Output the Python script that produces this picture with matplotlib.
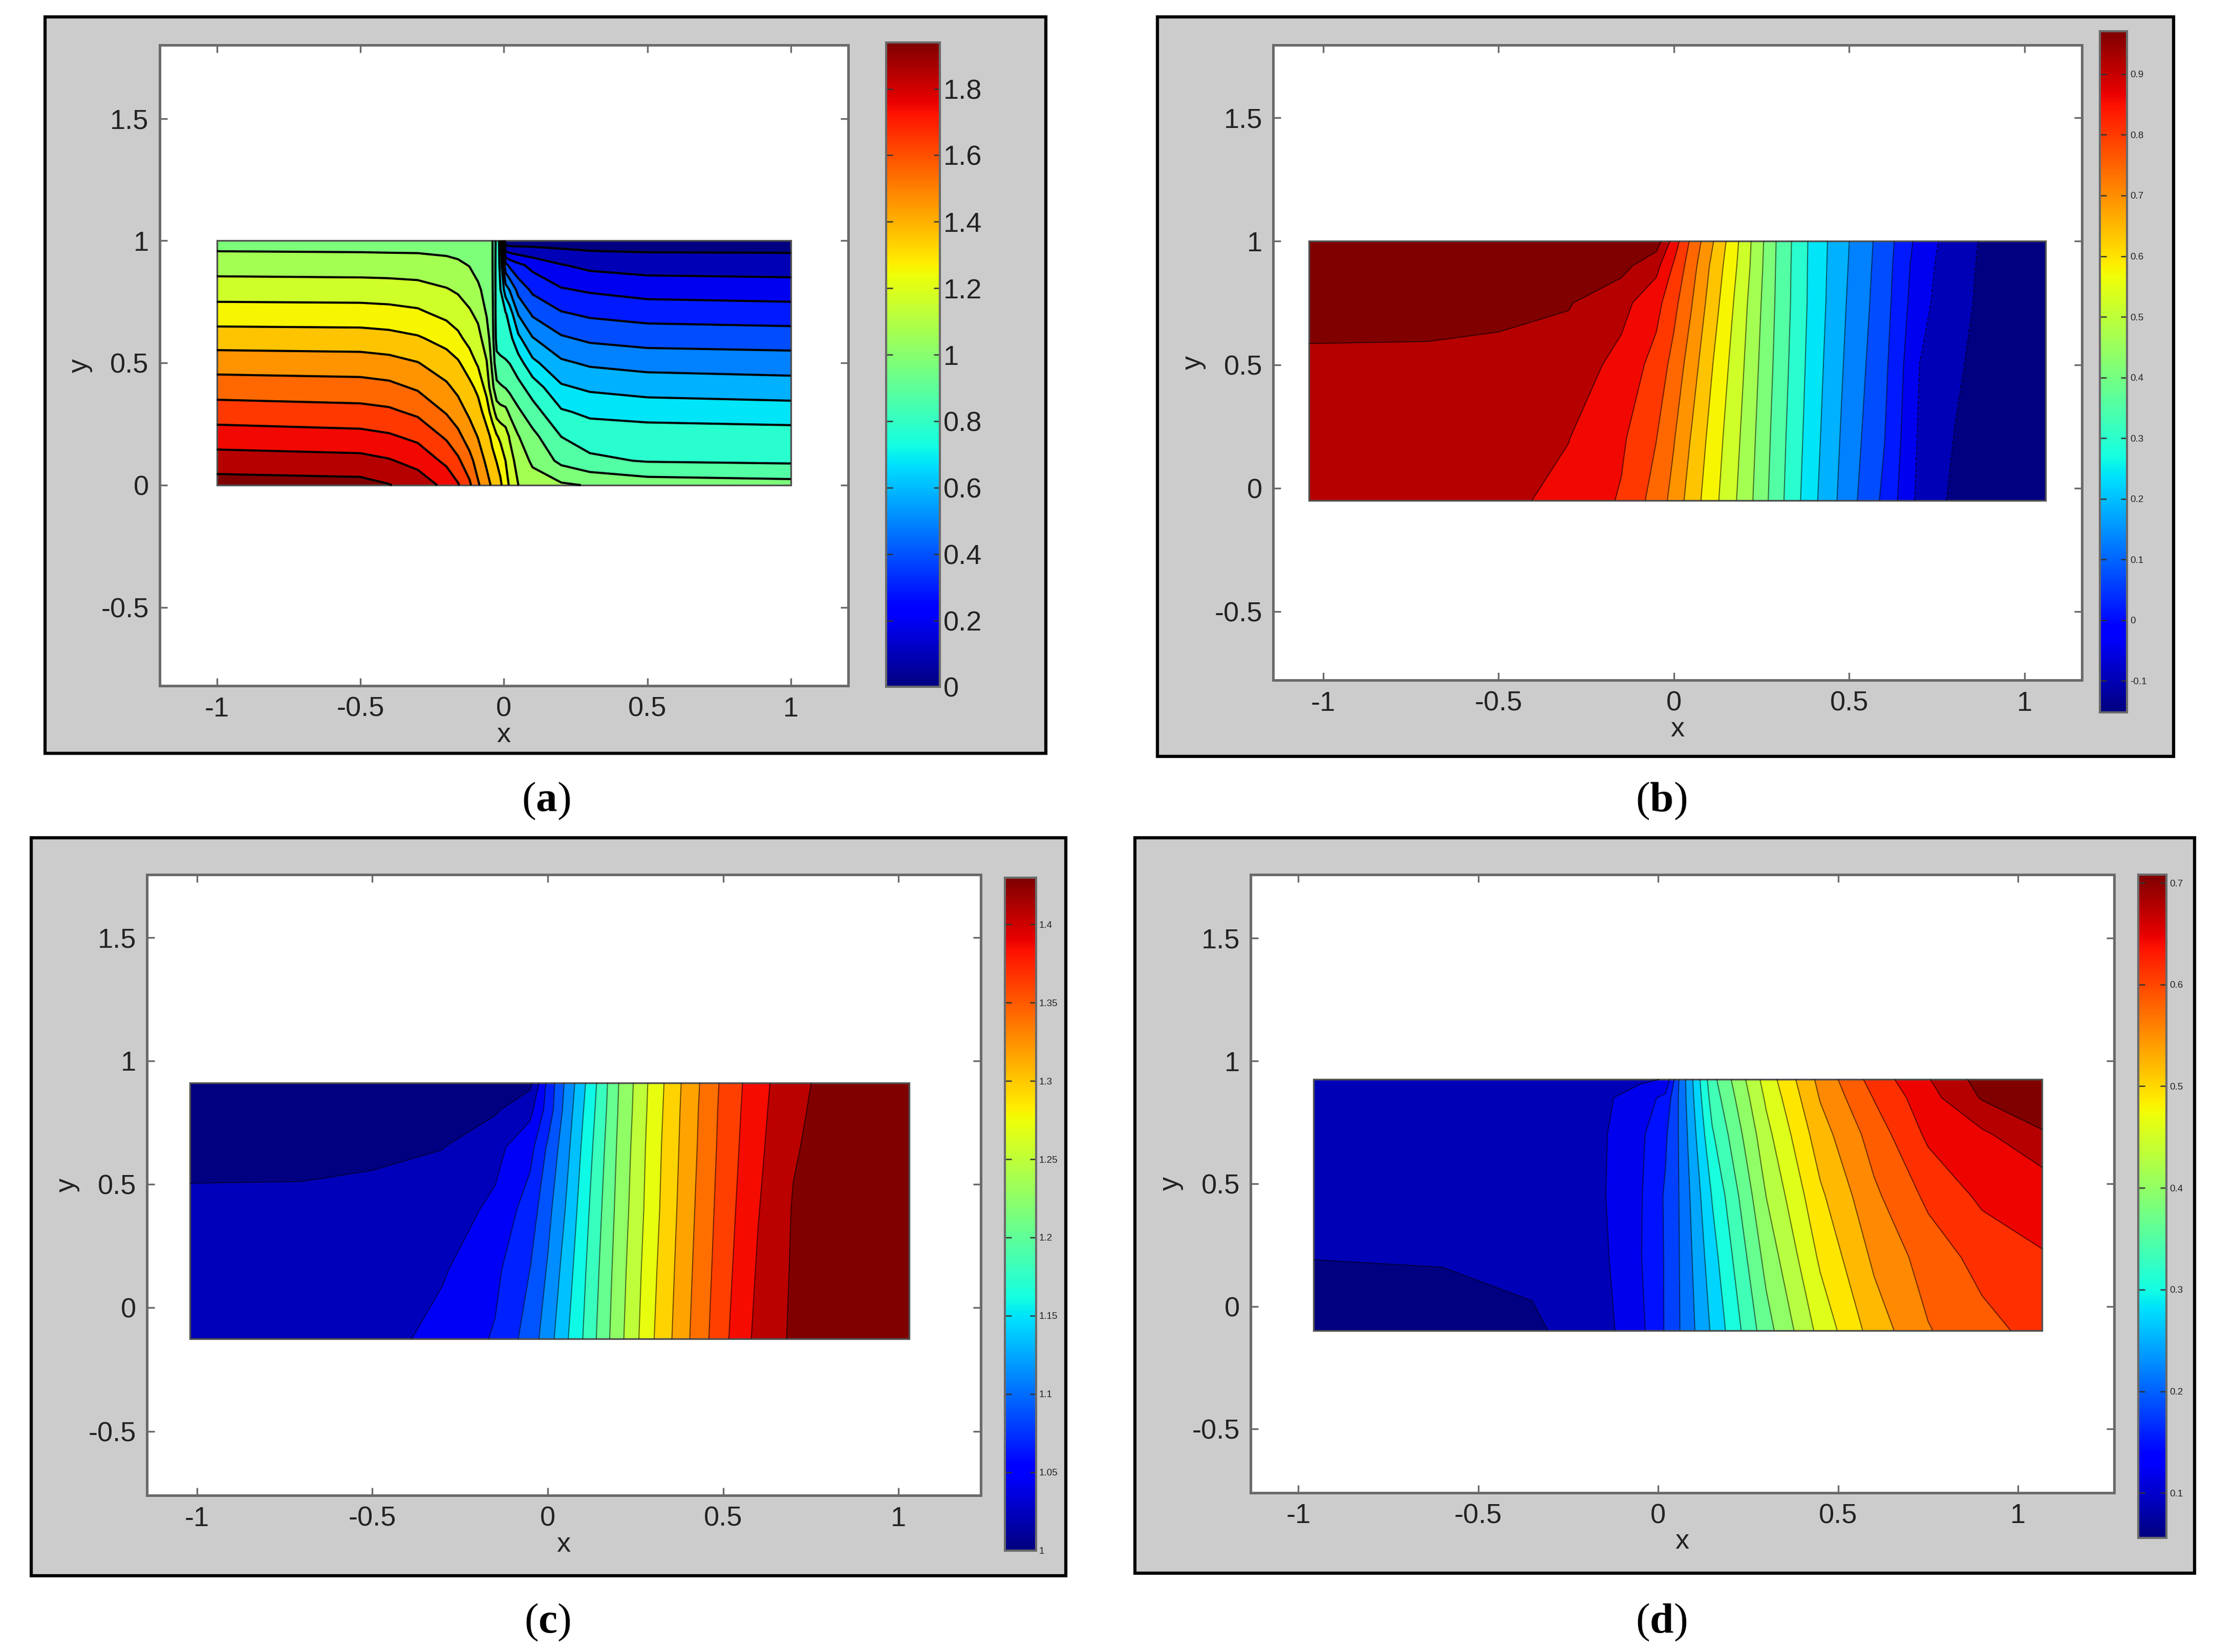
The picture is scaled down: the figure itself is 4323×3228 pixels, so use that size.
import numpy as np
import matplotlib
matplotlib.use("Agg")
import matplotlib.pyplot as plt
from matplotlib.patches import Rectangle
from matplotlib.colors import Normalize
from matplotlib.cm import ScalarMappable

plt.rcParams["font.family"] = ["Liberation Sans Narrow", "Liberation Sans", "DejaVu Sans"]
plt.rcParams["mathtext.fontset"] = "custom"
plt.rcParams["mathtext.bf"] = "Liberation Serif:bold"
plt.rcParams["mathtext.rm"] = "Liberation Serif"

# ticks shared by the four panels
xticks = [-1, -0.5, 0, 0.5, 1]
xtick_labels = ["-1", "-0.5", "0", "0.5", "1"]
yticks = [-0.5, 0, 0.5, 1, 1.5]
ytick_labels = ["-0.5", "0", "0.5", "1", "1.5"]

# ---- panel (a) ----
xa = [-1, -0.5, -0.4, -0.3, -0.2, -0.16, -0.12, -0.09, -0.06, -0.04, -0.025, -0.012,
      0.006, 0.02, 0.05, 0.1, 0.2, 0.3, 0.5, 1.0]
ya = [0, 0.1, 0.2, 0.3, 0.4, 0.5, 0.6, 0.7, 0.8, 0.9, 1.0]
# one column per x value, from y=0 up to y=1
za_cols = [
    [1.89, 1.797, 1.706, 1.615, 1.525, 1.436, 1.34, 1.245, 1.157, 1.068, 0.977],
    [1.88, 1.784, 1.691, 1.60, 1.515, 1.428, 1.335, 1.242, 1.153, 1.064, 0.974],
    [1.852, 1.763, 1.674, 1.587, 1.502, 1.416, 1.325, 1.235, 1.149, 1.062, 0.972],
    [1.808, 1.724, 1.64, 1.552, 1.466, 1.389, 1.304, 1.22, 1.14, 1.059, 0.972],
    [1.73, 1.642, 1.556, 1.47, 1.402, 1.335, 1.261, 1.179, 1.114, 1.044, 0.97],
    [1.672, 1.588, 1.502, 1.427, 1.363, 1.305, 1.222, 1.157, 1.097, 1.032, 0.967],
    [1.59, 1.509, 1.434, 1.368, 1.319, 1.245, 1.172, 1.122, 1.068, 1.013, 0.958],
    [1.49, 1.438, 1.381, 1.331, 1.27, 1.188, 1.139, 1.089, 1.034, 0.979, 0.93],
    [1.42, 1.368, 1.324, 1.252, 1.167, 1.114, 1.062, 1.011, 0.98, 0.95, 0.93],
    [1.37, 1.32, 1.27, 1.15, 1.04, 0.99, 0.96, 0.945, 0.935, 0.93, 0.93],
    [1.34, 1.29, 1.21, 1.07, 0.95, 0.86, 0.80, 0.79, 0.79, 0.79, 0.80],
    [1.31, 1.26, 1.18, 1.05, 0.935, 0.85, 0.79, 0.76, 0.74, 0.72, 0.70],
    [1.24, 1.20, 1.15, 1.04, 0.92, 0.84, 0.785, 0.75, 0.60, 0.40, 0.02],
    [1.19, 1.15, 1.10, 1.00, 0.90, 0.83, 0.77, 0.70, 0.55, 0.35, 0.02],
    [1.11, 1.07, 1.02, 0.94, 0.86, 0.78, 0.67, 0.55, 0.43, 0.30, 0.03],
    [1.06, 1.00, 0.95, 0.87, 0.79, 0.67, 0.56, 0.45, 0.35, 0.25, 0.04],
    [1.03, 0.90, 0.83, 0.75, 0.66, 0.57, 0.475, 0.38, 0.285, 0.19, 0.045],
    [1.01, 0.85, 0.79, 0.72, 0.63, 0.54, 0.445, 0.355, 0.265, 0.16, 0.045],
    [0.975, 0.825, 0.79, 0.70, 0.61, 0.52, 0.425, 0.335, 0.24, 0.145, 0.045],
    [0.96, 0.815, 0.78, 0.69, 0.595, 0.51, 0.415, 0.325, 0.23, 0.14, 0.045],
]
cba_range = (0.0, 1.94)
cba_ticks = [0, 0.2, 0.4, 0.6, 0.8, 1, 1.2, 1.4, 1.6, 1.8]
cba_labels = ["0", "0.2", "0.4", "0.6", "0.8", "1", "1.2", "1.4", "1.6", "1.8"]

# ---- panel (b) ----
xb = [-1.04, -0.7, -0.5, -0.3, -0.15, -0.05, 0, 0.05, 0.1, 0.2, 0.3, 0.4, 0.5, 0.6, 0.7, 0.8, 0.9, 1.06]
yb = [-0.05, 0.2, 0.5, 0.75, 0.9, 1.0]
zb_rows = [
    [0.895, 0.89, 0.875, 0.852, 0.805, 0.735, 0.685, 0.625, 0.573, 0.467, 0.345, 0.232, 0.135, 0.05, -0.06, -0.11, -0.13, -0.145],
    [0.902, 0.899, 0.887, 0.865, 0.8195, 0.758, 0.707, 0.646, 0.587, 0.477, 0.351, 0.2396, 0.143, 0.0635, -0.053, -0.10, -0.125, -0.147],
    [0.910, 0.910, 0.908, 0.893, 0.848, 0.791, 0.739, 0.677, 0.61, 0.49, 0.36, 0.247, 0.153, 0.074, -0.045, -0.09, -0.12, -0.148],
    [0.932, 0.930, 0.926, 0.921, 0.881, 0.828, 0.773, 0.707, 0.636, 0.503, 0.366, 0.253, 0.161, 0.083, -0.028, -0.08, -0.115, -0.15],
    [0.955, 0.954, 0.951, 0.945, 0.935, 0.88, 0.804, 0.727, 0.652, 0.515, 0.368, 0.254, 0.166, 0.087, -0.02, -0.078, -0.112, -0.15],
    [0.968, 0.968, 0.966, 0.962, 0.955, 0.945, 0.84, 0.745, 0.67, 0.52, 0.37, 0.255, 0.169, 0.09, -0.01, -0.075, -0.11, -0.15],
]
cbb_range = (-0.152, 0.971)
cbb_ticks = [-0.1, 0, 0.1, 0.2, 0.3, 0.4, 0.5, 0.6, 0.7, 0.8, 0.9]
cbb_labels = ["-0.1", "0", "0.1", "0.2", "0.3", "0.4", "0.5", "0.6", "0.7", "0.8", "0.9"]

# ---- panel (c) ----
xc = [-1.02, -0.7, -0.5, -0.3, -0.15, -0.05, 0, 0.05, 0.1, 0.2, 0.3, 0.4, 0.5, 0.6, 0.7, 0.8, 0.9, 1.03]
yc = [-0.126, 0.15, 0.4, 0.65, 0.8, 0.91]
zc_rows = [
    [1.030, 1.031, 1.034, 1.050, 1.0666, 1.096, 1.119, 1.146, 1.172, 1.228, 1.278, 1.3205, 1.36, 1.3936, 1.412, 1.42, 1.425, 1.428],
    [1.027, 1.0265, 1.028, 1.041, 1.0596, 1.0864, 1.1097, 1.1377, 1.1668, 1.2247, 1.2746, 1.3177, 1.3567, 1.3896, 1.411, 1.419, 1.424, 1.4275],
    [1.024, 1.0235, 1.024, 1.033, 1.047, 1.075, 1.1007, 1.129, 1.161, 1.221, 1.271, 1.315, 1.354, 1.386, 1.410, 1.418, 1.423, 1.427],
    [1.018, 1.019, 1.020, 1.021, 1.0365, 1.0576, 1.089, 1.12, 1.154, 1.2176, 1.269, 1.3123, 1.3513, 1.3825, 1.4066, 1.416, 1.422, 1.426],
    [1.012, 1.012, 1.013, 1.015, 1.019, 1.037, 1.073, 1.114, 1.149, 1.215, 1.267, 1.311, 1.35, 1.3805, 1.4044, 1.415, 1.421, 1.425],
    [1.005, 1.005, 1.006, 1.008, 1.011, 1.016, 1.07, 1.11, 1.145, 1.2137, 1.2656, 1.3096, 1.3486, 1.379, 1.4028, 1.414, 1.42, 1.424],
]
cbc_range = (1.0, 1.43)
cbc_ticks = [1, 1.05, 1.1, 1.15, 1.2, 1.25, 1.3, 1.35, 1.4]
cbc_labels = ["1", "1.05", "1.1", "1.15", "1.2", "1.25", "1.3", "1.35", "1.4"]

# ---- panel (d) ----
xd = [-0.957, -0.6, -0.35, -0.15, -0.05, 0.02, 0.06, 0.15, 0.3, 0.45, 0.6, 0.75, 0.9, 1.067]
yd = [-0.098, 0.2, 0.45, 0.7, 0.85, 0.925]
zd_rows = [
    [0.075, 0.077, 0.080, 0.106, 0.137, 0.177, 0.204, 0.268, 0.37, 0.451, 0.514, 0.558, 0.58, 0.60],
    [0.086, 0.087, 0.094, 0.111, 0.143, 0.177, 0.205, 0.281, 0.392, 0.476, 0.536, 0.573, 0.60, 0.618],
    [0.092, 0.094, 0.097, 0.114, 0.142, 0.178, 0.206, 0.295, 0.412, 0.495, 0.554, 0.596, 0.625, 0.626],
    [0.096, 0.097, 0.099, 0.113, 0.139, 0.17, 0.208, 0.319, 0.432, 0.517, 0.573, 0.625, 0.643, 0.675],
    [0.098, 0.099, 0.100, 0.110, 0.13, 0.153, 0.21, 0.335, 0.446, 0.532, 0.591, 0.638, 0.681, 0.70],
    [0.100, 0.101, 0.102, 0.105, 0.11, 0.117, 0.21, 0.343, 0.454, 0.539, 0.602, 0.647, 0.69, 0.706],
]
cbd_range = (0.056, 0.708)
cbd_ticks = [0.1, 0.2, 0.3, 0.4, 0.5, 0.6, 0.7]
cbd_labels = ["0.1", "0.2", "0.3", "0.4", "0.5", "0.6", "0.7"]

# layout measured on a 1568 x 1171 copy of the picture
W, H = 1568.0, 1171.0
jet = plt.get_cmap("jet")


def fbox(l, t, r, b):
    return [l / W, 1 - b / H, (r - l) / W, (b - t) / H]


def panel(fig, frame, axbox, cbbox, cap, letter, x, y, z, nlev, vr, xlim, ylim,
          cb_ticks, cb_labels, cb_size, lw, lalpha):
    fr = fbox(*frame)
    fig.patches.append(Rectangle((fr[0], fr[1]), fr[2], fr[3], transform=fig.transFigure,
                                 facecolor="#cccccc", edgecolor="black", linewidth=1.5, zorder=-5))
    ax = fig.add_axes(fbox(*axbox))
    levels = np.linspace(vr[0], vr[1], nlev)
    # matlab style: lowest band gets the first colour of the map, highest band the last
    band_colors = [jet(t) for t in np.linspace(0, 1, nlev - 1)]
    ax.contourf(x, y, z, levels=levels, colors=band_colors)
    ax.contour(x, y, z, levels=levels[1:-1], colors="black", linewidths=lw, alpha=lalpha)
    ax.add_patch(Rectangle((x[0], y[0]), x[-1] - x[0], y[-1] - y[0], fill=False,
                           edgecolor="#505050", linewidth=0.8))
    ax.set_xlim(xlim)
    ax.set_ylim(ylim)
    ax.set_xticks(xticks)
    ax.set_xticklabels(xtick_labels)
    ax.set_yticks(yticks)
    ax.set_yticklabels(ytick_labels)
    ax.tick_params(direction="in", top=True, right=True, length=3.5, width=0.8,
                   color="#6a6a6a", labelcolor="#222222", labelsize=13, pad=5)
    for s in ax.spines.values():
        s.set_color("#6a6a6a")
        s.set_linewidth(1.2)
    ax.set_xlabel("x", fontsize=13, color="#222222", labelpad=0)
    ax.set_ylabel("y", fontsize=13, color="#222222", labelpad=4)

    cax = fig.add_axes(fbox(*cbbox))
    sm = ScalarMappable(norm=Normalize(vr[0], vr[1]), cmap=jet)
    cb = fig.colorbar(sm, cax=cax)
    cb.set_ticks(cb_ticks)
    cb.set_ticklabels(cb_labels)
    cax.tick_params(direction="in", left=True, right=True, length=3, width=0.6,
                    color="#333333", labelcolor="#222222", labelsize=cb_size, pad=1.5)
    cb.outline.set_edgecolor("#6a6a6a")
    cb.outline.set_linewidth(1.0)

    fig.text(cap[0] / W, 1 - cap[1] / H, r"($\mathbf{%s}$)" % letter, ha="center", va="center",
             fontsize=20, family="Liberation Serif")


fig = plt.figure(figsize=(14.41, 10.76), dpi=300)
fig.patch.set_facecolor("white")

panel(fig, (32, 12, 741, 534), (113, 32, 601, 486), (628, 30, 666, 487), (387, 568), "a",
      xa, ya, np.array(za_cols).T, 22, cba_range, (-1.2, 1.2), (-0.82, 1.8),
      cba_ticks, cba_labels, 13, 1.0, 1.0)
panel(fig, (820, 12, 1540, 536), (902, 32, 1475, 482), (1488, 22, 1507, 505), (1177, 568), "b",
      xb, yb, np.array(zb_rows), 22, cbb_range, (-1.143, 1.163), (-0.777, 1.794),
      cbb_ticks, cbb_labels, 4.5, 0.5, 0.55)
panel(fig, (22, 594, 755, 1117), (104, 620, 695, 1060), (712, 622, 734, 1099), (388, 1150), "c",
      xc, yc, np.array(zc_rows), 21, cbc_range, (-1.143, 1.235), (-0.76, 1.754),
      cbc_ticks, cbc_labels, 4.5, 0.5, 0.55)
panel(fig, (804, 594, 1555, 1115), (886, 620, 1498, 1058), (1515, 620, 1535, 1090), (1177, 1150), "d",
      xd, yd, np.array(zd_rows), 23, cbd_range, (-1.133, 1.267), (-0.759, 1.759),
      cbd_ticks, cbd_labels, 4.5, 0.5, 0.55)

fig.savefig("out.png", dpi=300, facecolor="white")
